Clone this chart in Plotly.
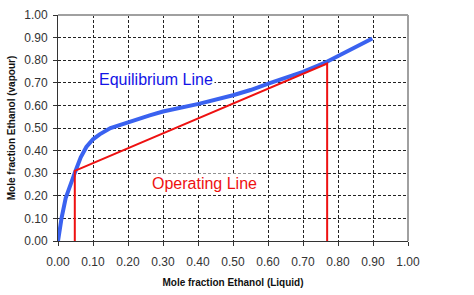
import plotly.graph_objects as go

# Equilibrium curve (liquid x, vapour y)
eq_x = [0.0, 0.004, 0.01, 0.022, 0.035, 0.05, 0.065, 0.081, 0.10, 0.119, 0.15, 0.2, 0.262, 0.30, 0.376, 0.405, 0.5, 0.55, 0.605, 0.65, 0.70, 0.767, 0.83, 0.898]
eq_y = [0.0, 0.05, 0.10, 0.19, 0.25, 0.31, 0.37, 0.416, 0.45, 0.472, 0.50, 0.527, 0.556, 0.573, 0.597, 0.608, 0.645, 0.668, 0.699, 0.722, 0.748, 0.792, 0.842, 0.896]

# Operating line with vertical drops
op_x = [0.048, 0.048, 0.769, 0.769]
op_y = [0.0, 0.31, 0.785, 0.0]

tick_vals = [i / 10 for i in range(11)]
tick_text = ["%.2f" % v for v in tick_vals]

fig = go.Figure()
fig.add_trace(go.Scatter(x=eq_x, y=eq_y, mode="lines",
                         line=dict(color="#3a62f0", width=4),
                         hoverinfo="skip"))
fig.add_trace(go.Scatter(x=op_x, y=op_y, mode="lines",
                         line=dict(color="#ee1111", width=2), hoverinfo="skip"))

fig.add_annotation(x=0.279, y=0.715, text="Equilibrium Line", showarrow=False,
                   bgcolor="white", borderpad=1,
                   font=dict(family="Arial, Liberation Sans", size=16, color="#1414e6"))
fig.add_annotation(x=0.418, y=0.255, text="Operating Line", showarrow=False,
                   bgcolor="white", borderpad=1,
                   font=dict(family="Arial, Liberation Sans", size=16, color="#ee1111"))

# gray top/right border
fig.add_shape(type="line", xref="paper", yref="paper", x0=0, x1=1, y0=1, y1=1,
              line=dict(color="#a0a0a0", width=2), layer="above")
fig.add_shape(type="line", xref="paper", yref="paper", x0=1, x1=1, y0=0, y1=1,
              line=dict(color="#a0a0a0", width=2), layer="above")

axis_common = dict(
    range=[0, 1], tickvals=tick_vals, ticktext=tick_text,
    showgrid=True, gridcolor="#222222", griddash="3px,2px", gridwidth=1,
    showline=True, linecolor="#333333", linewidth=1,
    ticks="outside", ticklen=4, tickcolor="#333333",
    tickfont=dict(family="Arial, Liberation Sans", size=12, color="#333333"),
    zeroline=False, fixedrange=True, automargin=False,
)

fig.update_layout(
    width=474, height=295,
    margin=dict(l=58, r=66, t=15, b=54),
    paper_bgcolor="white", plot_bgcolor="white",
    showlegend=False,
    xaxis=dict(**axis_common, ticklabelstandoff=6,
               title=dict(text="<b>Mole fraction Ethanol (Liquid)</b>", standoff=10,
                          font=dict(family="Arial, Liberation Sans", size=10, color="#111111"))),
    yaxis=dict(**axis_common, ticklabelstandoff=3,
               title=dict(text="<b>Mole fraction Ethanol (vapour)</b>", standoff=6,
                          font=dict(family="Arial, Liberation Sans", size=10, color="#111111"))),
)

fig.write_html("out.html")
